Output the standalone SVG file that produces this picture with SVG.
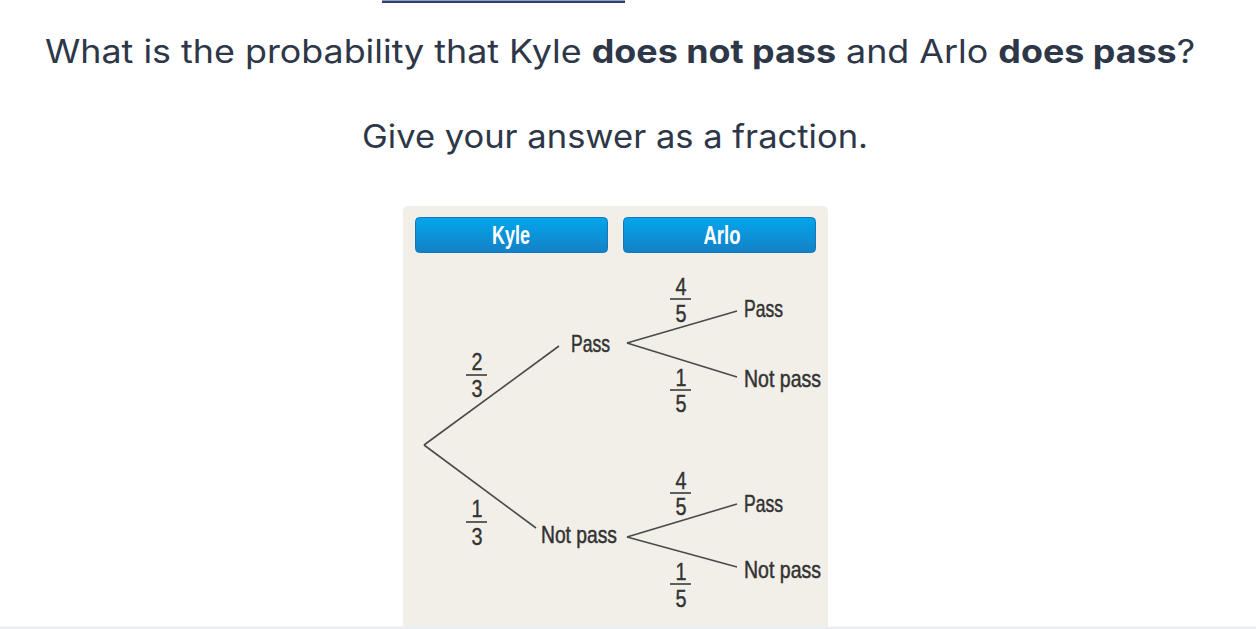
<svg xmlns="http://www.w3.org/2000/svg" width="1256" height="629" viewBox="0 0 1256 629">
<defs>
<linearGradient id="blue" x1="0" y1="0" x2="0" y2="1">
<stop offset="0" stop-color="#03a6ec"/>
<stop offset="1" stop-color="#1480c6"/>
</linearGradient>
<style>
.q{font-family:Inter,"Noto Sans",sans-serif;font-size:32px;fill:#2d3748}
.b{font-weight:700}
.hd{font-family:"Liberation Sans",Arial,sans-serif;font-size:25px;font-weight:700;fill:#fff;text-anchor:middle}
.lb{font-family:"Liberation Sans",Arial,sans-serif;font-size:24px;fill:#333;stroke:#333;stroke-width:0.5}
.fr{font-family:"Liberation Sans",Arial,sans-serif;font-size:24px;fill:#333;stroke:#333;stroke-width:0.4;text-anchor:middle}
.ln{stroke:#4a4a4a;stroke-width:1.6;fill:none}
.bar{stroke:#3a3a3a;stroke-width:1.6}
.box{fill:url(#blue);stroke:#1877bb;stroke-width:1}
</style>
</defs>
<rect width="1256" height="629" fill="#fff"/>
<rect x="382" y="0.5" width="243" height="2.5" fill="#2c3e74"/>
<text class="q" x="45" y="63" textLength="1150" lengthAdjust="spacingAndGlyphs">What is the probability that Kyle <tspan class="b">does not pass</tspan> and Arlo <tspan class="b">does pass</tspan>?</text>
<text class="q" x="362" y="148" textLength="506" lengthAdjust="spacingAndGlyphs">Give your answer as a fraction.</text>
<rect x="403" y="206" width="425" height="425" rx="5" fill="#f1efe8"/>
<rect x="0" y="626.5" width="1256" height="2.5" fill="#eaedf2"/>
<g id="header-kyle"><rect class="box" x="415.5" y="217.5" width="192" height="35" rx="4"/><text class="hd" x="511" y="244" textLength="38" lengthAdjust="spacingAndGlyphs">Kyle</text></g>
<g id="header-arlo"><rect class="box" x="623.5" y="217.5" width="192" height="35" rx="4"/><text class="hd" x="722" y="244" textLength="37" lengthAdjust="spacingAndGlyphs">Arlo</text></g>
<g id="connectors">
<line class="ln" x1="424" y1="445" x2="559" y2="346"/>
<line class="ln" x1="424" y1="445" x2="536" y2="528"/>
<line class="ln" x1="627" y1="343" x2="737" y2="311"/>
<line class="ln" x1="627" y1="343" x2="737" y2="377"/>
<line class="ln" x1="627" y1="537" x2="737" y2="504"/>
<line class="ln" x1="627" y1="537" x2="737" y2="567"/>
</g>
<g id="kyle-pass"><text class="lb" x="571" y="352" textLength="39" lengthAdjust="spacingAndGlyphs">Pass</text></g>
<g id="kyle-notpass"><text class="lb" x="541" y="543" textLength="76" lengthAdjust="spacingAndGlyphs">Not pass</text></g>
<g id="arlo-pass-1"><text class="lb" x="744" y="317" textLength="39" lengthAdjust="spacingAndGlyphs">Pass</text></g>
<g id="arlo-notpass-1"><text class="lb" x="744" y="387" textLength="77" lengthAdjust="spacingAndGlyphs">Not pass</text></g>
<g id="arlo-pass-2"><text class="lb" x="744" y="512" textLength="39" lengthAdjust="spacingAndGlyphs">Pass</text></g>
<g id="arlo-notpass-2"><text class="lb" x="744" y="578" textLength="77" lengthAdjust="spacingAndGlyphs">Not pass</text></g>
<g id="frac-2-3"><text class="fr" x="477" y="370" textLength="11" lengthAdjust="spacingAndGlyphs">2</text><line class="bar" x1="466" y1="375" x2="487" y2="375"/><text class="fr" x="477" y="397" textLength="11" lengthAdjust="spacingAndGlyphs">3</text></g>
<g id="frac-1-3"><text class="fr" x="477" y="517" textLength="11" lengthAdjust="spacingAndGlyphs">1</text><line class="bar" x1="466" y1="522" x2="487" y2="522"/><text class="fr" x="477" y="545" textLength="11" lengthAdjust="spacingAndGlyphs">3</text></g>
<g id="frac-4-5-a"><text class="fr" x="681" y="295" textLength="11" lengthAdjust="spacingAndGlyphs">4</text><line class="bar" x1="670" y1="299" x2="691" y2="299"/><text class="fr" x="681" y="322" textLength="11" lengthAdjust="spacingAndGlyphs">5</text></g>
<g id="frac-1-5-a"><text class="fr" x="681" y="386" textLength="11" lengthAdjust="spacingAndGlyphs">1</text><line class="bar" x1="670" y1="390" x2="691" y2="390"/><text class="fr" x="681" y="412" textLength="11" lengthAdjust="spacingAndGlyphs">5</text></g>
<g id="frac-4-5-b"><text class="fr" x="681" y="489" textLength="11" lengthAdjust="spacingAndGlyphs">4</text><line class="bar" x1="670" y1="493" x2="691" y2="493"/><text class="fr" x="681" y="515" textLength="11" lengthAdjust="spacingAndGlyphs">5</text></g>
<g id="frac-1-5-b"><text class="fr" x="681" y="580" textLength="11" lengthAdjust="spacingAndGlyphs">1</text><line class="bar" x1="670" y1="584" x2="691" y2="584"/><text class="fr" x="681" y="607" textLength="11" lengthAdjust="spacingAndGlyphs">5</text></g>
</svg>
